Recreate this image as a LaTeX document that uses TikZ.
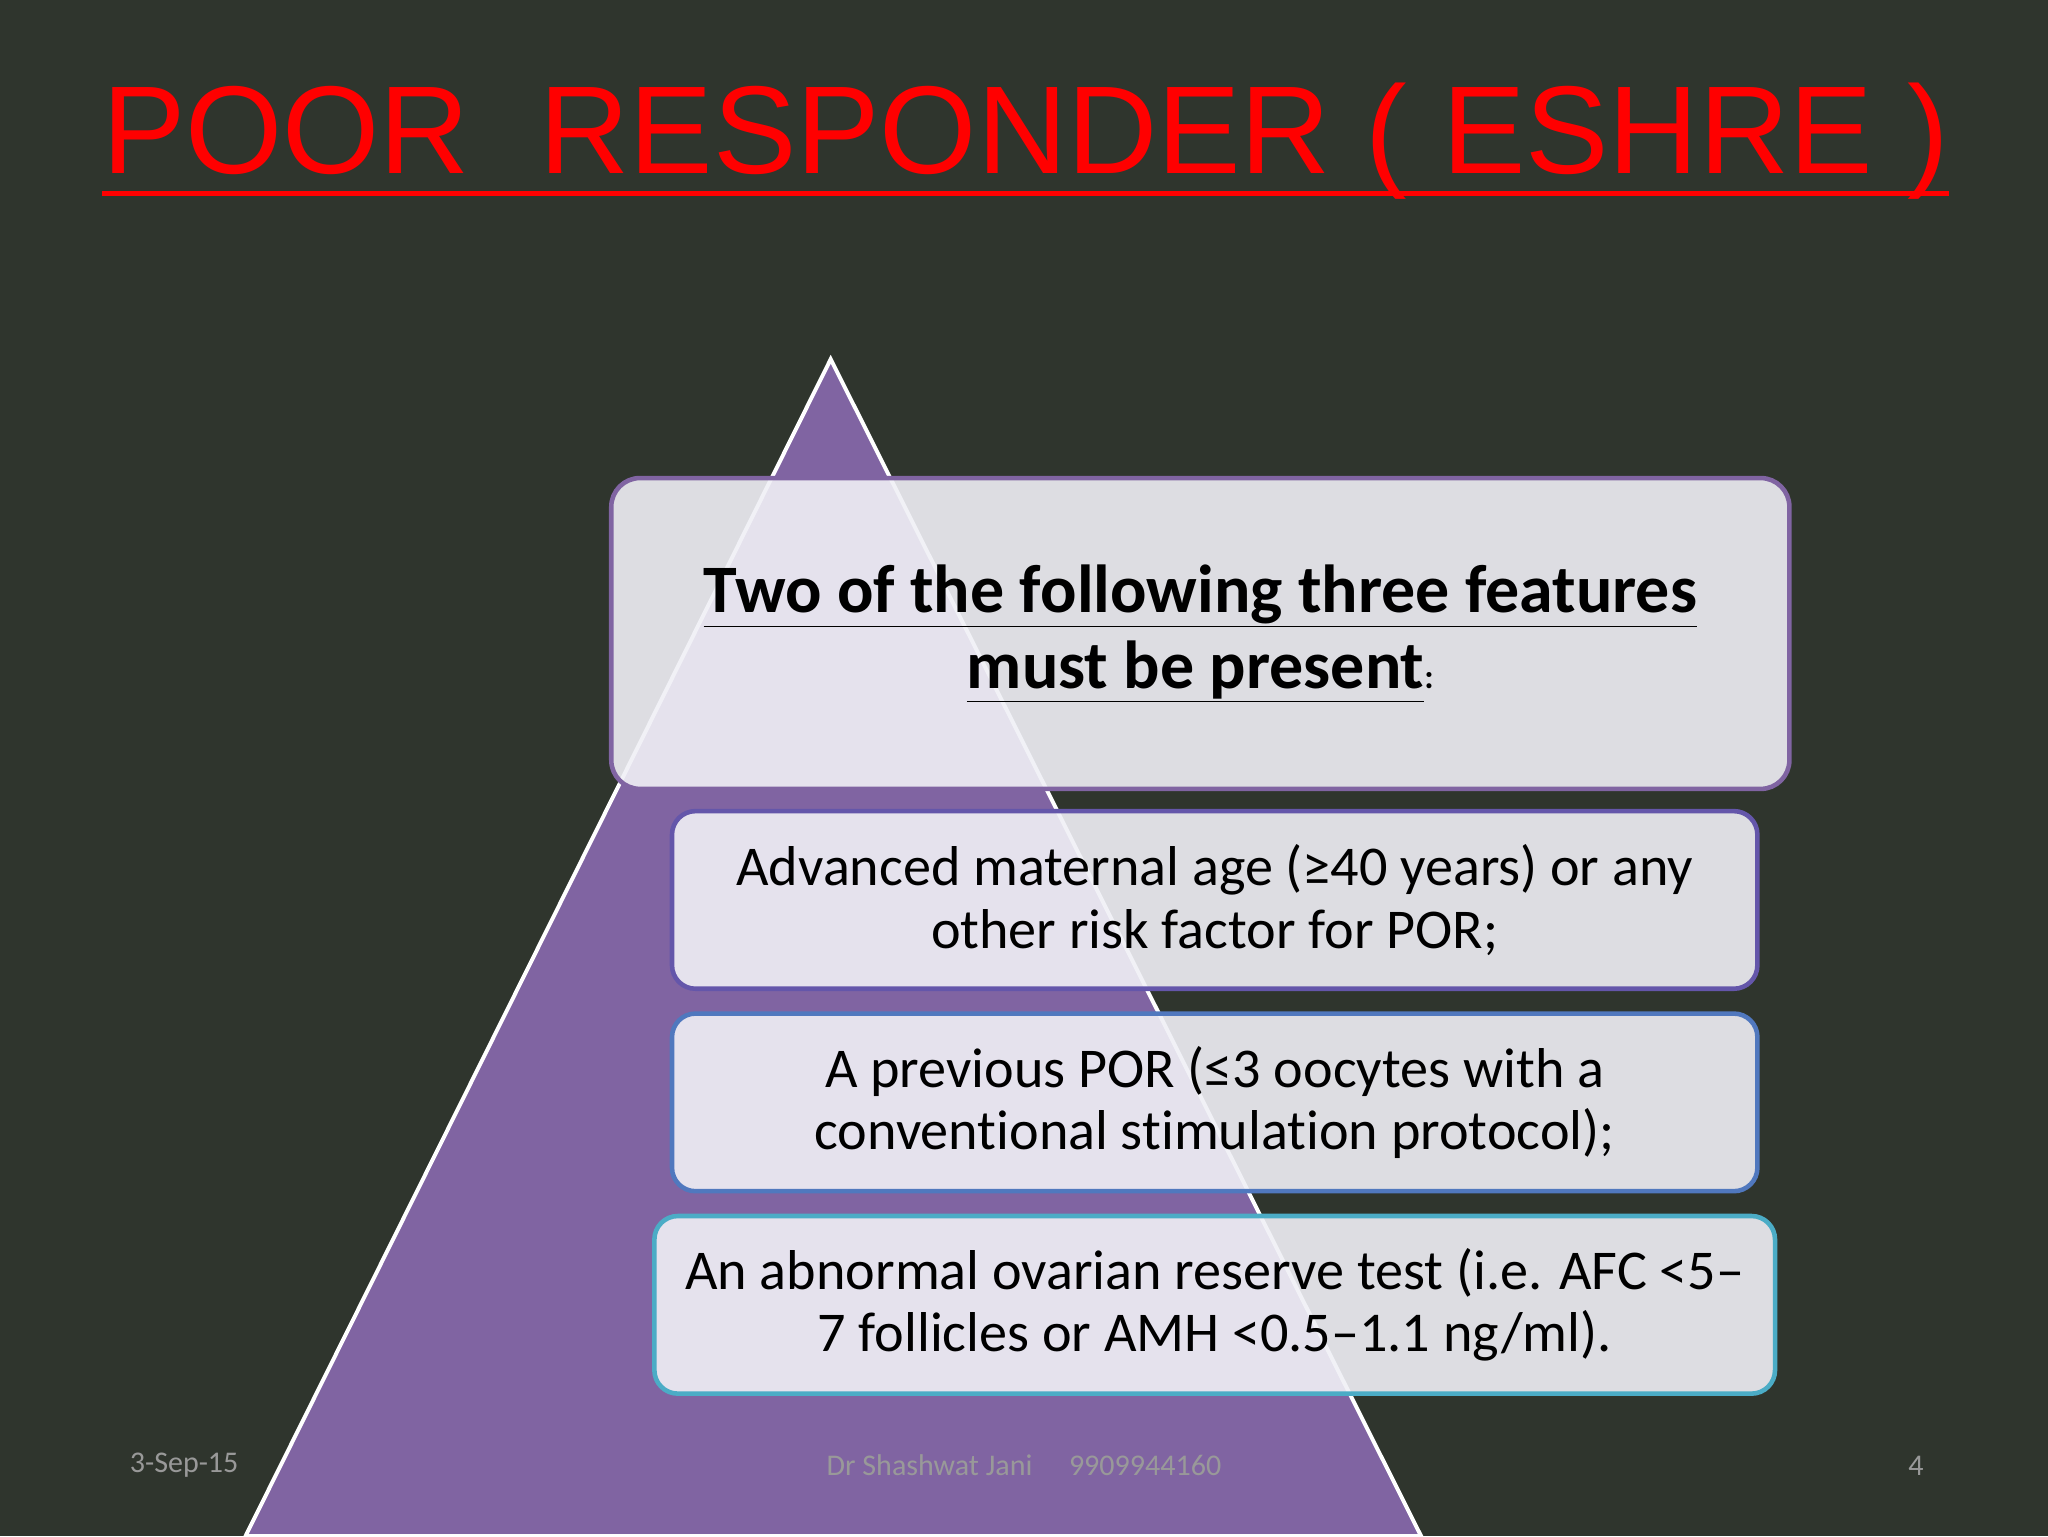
\documentclass[tikz,border=0pt]{standalone}
\usepackage{fontspec}
\setmainfont[Ligatures=NoCommon]{Carlito}
\newfontfamily\arialf{Liberation Sans}
\begin{document}
\begin{tikzpicture}[x=1pt,y=-1pt,
  box/.style={draw,line width=3.5pt,rounded corners=22pt,fill={rgb,255:red,240;green,240;blue,246},fill opacity=0.9,text opacity=1,align=center,text=black},
  foot/.style={text=gray!80,font=\fontsize{23}{26}\selectfont}]
\fill[fill={rgb,255:red,47;green,53;blue,45}] (0,0) rectangle (1568,1176);
\useasboundingbox (0,0) rectangle (1568,1176);
\node[anchor=base west,text=red,font=\arialf\fontsize{104}{110}\selectfont,inner sep=0] (title) at (78,133) {\resizebox{1414pt}{!}{POOR\ \ RESPONDER ( ESHRE )}};
\draw[red,line width=4pt] (78,148) -- (1492,148);
\draw[white,line width=3pt,fill={rgb,255:red,128;green,100;blue,162}] (636,275) coordinate (apex) -- (1088,1176) coordinate (br) -- (188,1176) coordinate (bl) -- cycle;
\node[box,draw={rgb,255:red,128;green,100;blue,162},minimum width=902pt,minimum height=238pt,font=\bfseries\fontsize{52}{58}\selectfont] (b1) at (919,485) {\underline{Two of the following three features}\\\underline{must be present}{\fontsize{26}{26}\selectfont:}};
\node[box,draw={rgb,255:red,100;green,86;blue,170},minimum width=831pt,minimum height=136pt,rounded corners=18pt,font=\fontsize{43}{48}\selectfont] (b2) at (930,689) {Advanced maternal age (≥40 years) or any\\other risk factor for POR;};
\node[box,draw={rgb,255:red,80;green,120;blue,190},minimum width=831pt,minimum height=136pt,rounded corners=18pt,font=\fontsize{43}{48}\selectfont] (b3) at (930,844) {A previous POR (≤3 oocytes with a\\conventional stimulation protocol);};
\node[box,draw={rgb,255:red,75;green,172;blue,198},minimum width=858pt,minimum height=136pt,rounded corners=18pt,font=\fontsize{43}{48}\selectfont] (b4) at (930,999) {An abnormal ovarian reserve test (i.e. AFC <5–\\7 follicles or AMH <0.5–1.1 ng/ml).};
\node[foot] (f1) at (141,1122) {3-Sep-15};
\node[foot] (f2) at (784,1122) {Dr Shashwat Jani\hspace{28pt}9909944160};
\node[foot] (f3) at (1467,1122) {4};
\end{tikzpicture}
\end{document}
